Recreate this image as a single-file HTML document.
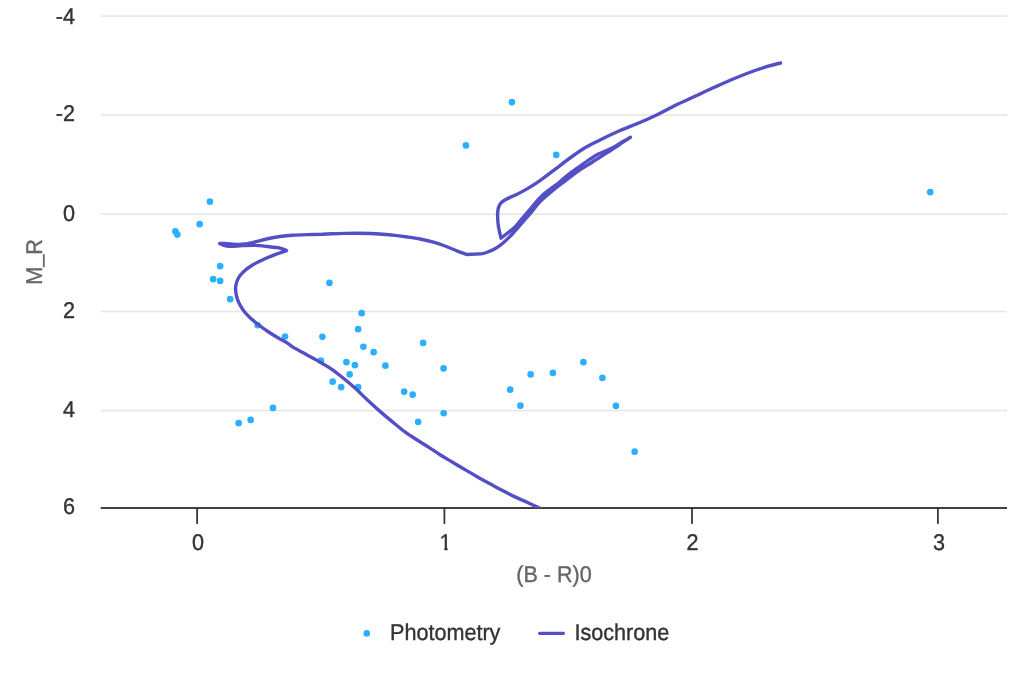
<!DOCTYPE html>
<html lang="en"><head><meta charset="utf-8"><title>Chart</title>
<style>html,body{margin:0;padding:0;background:#fff;overflow:hidden}svg{display:block;will-change:transform}text{text-rendering:geometricPrecision;font-family:"Liberation Sans",Helvetica,Arial,sans-serif;font-size:21.6px}</style></head><body>
<svg width="1024" height="683" viewBox="0 0 1024 683">
<rect width="1024" height="683" fill="#fff"/>
<defs><clipPath id="pc"><rect x="100.8" y="0" width="906.2" height="508.0"/></clipPath></defs>
<rect x="100.8" y="15.25" width="906.2" height="1.6" fill="#e6e6e6"/>
<rect x="100.8" y="114.25" width="906.2" height="1.6" fill="#e6e6e6"/>
<rect x="100.8" y="213.35" width="906.2" height="1.6" fill="#e6e6e6"/>
<rect x="100.8" y="310.7" width="906.2" height="1.6" fill="#e6e6e6"/>
<rect x="100.8" y="409.8" width="906.2" height="1.6" fill="#e6e6e6"/>
<rect x="100.8" y="507.07" width="906.2" height="1.86" fill="#333"/>
<rect x="196.22" y="508.0" width="1.76" height="15.9" fill="#333"/>
<text transform="translate(198.1,550) scale(1,1.055)" text-anchor="middle" fill="#333" stroke="#333" stroke-width="0.35">0</text>
<rect x="443.52" y="508.0" width="1.76" height="15.9" fill="#333"/>
<text transform="translate(445.4,550) scale(1,1.055)" text-anchor="middle" fill="#333" stroke="#333" stroke-width="0.35">1</text>
<rect x="691.12" y="508.0" width="1.76" height="15.9" fill="#333"/>
<text transform="translate(692.5,550) scale(1,1.055)" text-anchor="middle" fill="#333" stroke="#333" stroke-width="0.35">2</text>
<rect x="937.02" y="508.0" width="1.76" height="15.9" fill="#333"/>
<text transform="translate(938.9,550) scale(1,1.055)" text-anchor="middle" fill="#333" stroke="#333" stroke-width="0.35">3</text>
<text transform="translate(74.9,23.8) scale(1,1.055)" text-anchor="end" fill="#333" stroke="#333" stroke-width="0.35">-4</text>
<text transform="translate(74.9,121.1) scale(1,1.055)" text-anchor="end" fill="#333" stroke="#333" stroke-width="0.35">-2</text>
<text transform="translate(74.9,220.5) scale(1,1.055)" text-anchor="end" fill="#333" stroke="#333" stroke-width="0.35">0</text>
<text transform="translate(74.9,317.7) scale(1,1.055)" text-anchor="end" fill="#333" stroke="#333" stroke-width="0.35">2</text>
<text transform="translate(74.9,416.6) scale(1,1.055)" text-anchor="end" fill="#333" stroke="#333" stroke-width="0.35">4</text>
<text transform="translate(74.9,514.1) scale(1,1.055)" text-anchor="end" fill="#333" stroke="#333" stroke-width="0.35">6</text>
<text dy="0 -1.7 1.7" transform="translate(41.9,262) rotate(-90) scale(1,1.055)" text-anchor="middle" fill="#666" stroke="#666" stroke-width="0.35">M_R</text>
<text transform="translate(554,581.7) scale(1,1.055)" text-anchor="middle" fill="#666" stroke="#666" stroke-width="0.35">(B - R)0</text>
<rect x="439.5" y="547.4" width="4.85" height="4.4" fill="#fff"/><rect x="447.65" y="547.4" width="4.6" height="4.4" fill="#fff"/>
<g fill="#2caffe"><circle cx="209.9" cy="201.65" r="3.3"/><circle cx="199.65" cy="224.15" r="3.3"/><circle cx="175.4" cy="231.4" r="3.3"/><circle cx="177.35" cy="234.6" r="3.3"/><circle cx="220.15" cy="266.15" r="3.3"/><circle cx="213.15" cy="279.15" r="3.3"/><circle cx="220.15" cy="280.9" r="3.3"/><circle cx="230.15" cy="299.15" r="3.3"/><circle cx="257.65" cy="325.15" r="3.3"/><circle cx="285.04999999999995" cy="336.54999999999995" r="3.3"/><circle cx="322.4" cy="336.84999999999997" r="3.3"/><circle cx="329.45" cy="282.9" r="3.3"/><circle cx="361.65" cy="313.15" r="3.3"/><circle cx="358.15" cy="329.15" r="3.3"/><circle cx="363.4" cy="346.75" r="3.3"/><circle cx="373.65" cy="352.15" r="3.3"/><circle cx="423.15" cy="342.9" r="3.3"/><circle cx="320.9" cy="360.65" r="3.3"/><circle cx="346.4" cy="362.15" r="3.3"/><circle cx="354.9" cy="365.15" r="3.3"/><circle cx="385.4" cy="365.65" r="3.3"/><circle cx="443.54999999999995" cy="368.4" r="3.3"/><circle cx="349.65" cy="374.4" r="3.3"/><circle cx="332.65" cy="381.65" r="3.3"/><circle cx="341.15" cy="387.15" r="3.3"/><circle cx="358.15" cy="387.15" r="3.3"/><circle cx="404.15" cy="391.65" r="3.3"/><circle cx="412.65" cy="394.65" r="3.3"/><circle cx="443.65" cy="413.25" r="3.3"/><circle cx="418.15" cy="421.9" r="3.3"/><circle cx="272.9" cy="407.9" r="3.3"/><circle cx="250.65" cy="419.9" r="3.3"/><circle cx="238.65" cy="423.15" r="3.3"/><circle cx="510.15" cy="389.65" r="3.3"/><circle cx="520.4" cy="405.65" r="3.3"/><circle cx="530.65" cy="374.4" r="3.3"/><circle cx="552.9" cy="372.9" r="3.3"/><circle cx="583.4" cy="362.15" r="3.3"/><circle cx="602.4" cy="377.9" r="3.3"/><circle cx="615.9" cy="405.9" r="3.3"/><circle cx="634.65" cy="451.65" r="3.3"/><circle cx="511.9" cy="102.15" r="3.3"/><circle cx="465.9" cy="145.4" r="3.3"/><circle cx="556.25" cy="154.9" r="3.3"/><circle cx="930.25" cy="192.15" r="3.3"/></g>
<g clip-path="url(#pc)"><path fill="none" stroke="#544fc5" stroke-width="3.4" stroke-linejoin="round" stroke-linecap="round" d="M541.00,508.70C540.21,508.33 538.50,507.53 536.25,506.50C534.00,505.47 531.04,504.10 527.50,502.50C523.96,500.90 519.17,498.88 515.00,496.90C510.83,494.92 506.67,492.79 502.50,490.60C498.33,488.41 494.17,486.03 490.00,483.75C485.83,481.47 481.67,479.26 477.50,476.90C473.33,474.54 469.17,472.04 465.00,469.60C460.83,467.16 456.67,464.73 452.50,462.25C448.33,459.77 443.75,457.11 440.00,454.75C436.25,452.39 433.75,450.51 430.00,448.10C426.25,445.69 421.67,443.00 417.50,440.30C413.33,437.60 409.17,434.97 405.00,431.90C400.83,428.83 396.67,425.32 392.50,421.90C388.33,418.48 384.17,415.05 380.00,411.40C375.83,407.75 371.67,403.88 367.50,400.00C363.33,396.12 359.17,391.85 355.00,388.10C350.83,384.35 346.67,380.83 342.50,377.50C338.33,374.17 334.17,370.92 330.00,368.10C325.83,365.28 321.67,362.99 317.50,360.60C313.33,358.21 309.17,356.03 305.00,353.75C300.83,351.47 295.42,348.67 292.50,346.90C289.58,345.12 290.00,344.67 287.50,343.10C285.00,341.53 280.83,339.48 277.50,337.50C274.17,335.52 270.62,333.33 267.50,331.25C264.38,329.17 261.46,327.08 258.75,325.00C256.04,322.92 253.54,320.83 251.25,318.75C248.96,316.67 246.88,314.79 245.00,312.50C243.12,310.21 241.35,307.50 240.00,305.00C238.65,302.50 237.63,300.00 236.90,297.50C236.17,295.00 235.71,292.29 235.60,290.00C235.49,287.71 235.72,285.83 236.25,283.75C236.78,281.67 237.57,279.48 238.75,277.50C239.93,275.52 241.01,273.98 243.30,271.90C245.59,269.82 248.88,267.19 252.50,265.00C256.12,262.81 260.83,260.62 265.00,258.75C269.17,256.88 273.90,255.11 277.50,253.75C281.10,252.39 285.08,251.12 286.60,250.60L286.60,250.60C285.50,250.18 283.18,248.78 280.00,248.10C276.82,247.42 271.67,246.95 267.50,246.50C263.33,246.05 259.17,245.55 255.00,245.40C250.83,245.25 246.67,245.46 242.50,245.60C238.33,245.74 233.12,246.28 230.00,246.25C226.88,246.22 225.47,245.86 223.75,245.40C222.03,244.94 220.38,243.82 219.70,243.50L219.70,243.50C220.58,243.50 222.03,243.35 225.00,243.50C227.97,243.65 234.17,244.32 237.50,244.40C240.83,244.48 242.08,244.42 245.00,244.00C247.92,243.58 251.25,242.78 255.00,241.90C258.75,241.03 263.33,239.65 267.50,238.75C271.67,237.85 275.83,237.09 280.00,236.50C284.17,235.91 287.92,235.52 292.50,235.20C297.08,234.88 302.92,234.73 307.50,234.60C312.08,234.47 315.83,234.54 320.00,234.40C324.17,234.26 328.33,233.92 332.50,233.75C336.67,233.58 340.83,233.48 345.00,233.40C349.17,233.32 353.33,233.23 357.50,233.25C361.67,233.27 365.83,233.33 370.00,233.50C374.17,233.67 378.33,233.93 382.50,234.25C386.67,234.57 390.83,234.94 395.00,235.40C399.17,235.86 403.33,236.40 407.50,237.00C411.67,237.60 415.83,238.18 420.00,239.00C424.17,239.82 428.33,240.73 432.50,241.90C436.67,243.07 440.83,244.47 445.00,246.00C449.17,247.53 453.85,249.68 457.50,251.10C461.15,252.52 465.33,253.93 466.90,254.50L466.90,254.50C468.25,254.43 472.40,254.25 475.00,254.10C477.60,253.95 480.21,254.02 482.50,253.60C484.79,253.18 486.67,252.41 488.75,251.60C490.83,250.79 492.71,250.10 495.00,248.75C497.29,247.40 499.58,246.00 502.50,243.50C505.42,241.00 509.17,237.28 512.50,233.75C515.83,230.22 519.17,226.12 522.50,222.30C525.83,218.48 529.58,214.25 532.50,210.80C535.42,207.35 537.25,204.47 540.00,201.60C542.75,198.73 545.88,196.27 549.00,193.60C552.12,190.93 555.67,188.00 558.75,185.60C561.83,183.20 564.38,181.55 567.50,179.20C570.62,176.85 574.17,173.85 577.50,171.50C580.83,169.15 584.17,167.20 587.50,165.10C590.83,163.00 594.42,160.87 597.50,158.90C600.58,156.93 603.08,155.18 606.00,153.30C608.92,151.42 612.17,149.45 615.00,147.60C617.83,145.75 620.43,143.92 623.00,142.20C625.57,140.48 629.17,138.12 630.40,137.30L630.40,137.30C629.17,138.00 625.57,139.98 623.00,141.50C620.43,143.02 617.83,144.83 615.00,146.40C612.17,147.97 608.92,149.57 606.00,150.90C603.08,152.23 600.58,152.73 597.50,154.40C594.42,156.07 590.83,158.63 587.50,160.90C584.17,163.17 580.83,165.60 577.50,168.00C574.17,170.40 570.62,172.83 567.50,175.30C564.38,177.77 561.83,180.35 558.75,182.80C555.67,185.25 552.12,187.53 549.00,190.00C545.88,192.47 543.17,194.38 540.00,197.60C536.83,200.82 533.33,205.40 530.00,209.30C526.67,213.20 522.71,217.87 520.00,221.00C517.29,224.13 516.92,225.25 513.75,228.10C510.58,230.95 503.12,236.43 501.00,238.10L501.00,238.10C500.57,236.12 498.97,229.89 498.40,226.25C497.83,222.61 497.68,218.88 497.60,216.25C497.52,213.62 497.67,212.16 497.90,210.50C498.13,208.84 498.43,207.60 499.00,206.30C499.57,205.00 500.30,203.75 501.30,202.70C502.30,201.65 503.55,200.88 505.00,200.00C506.45,199.12 508.33,198.20 510.00,197.40C511.67,196.60 512.08,196.67 515.00,195.20C517.92,193.73 523.33,191.03 527.50,188.60C531.67,186.17 535.42,183.80 540.00,180.60C544.58,177.40 550.00,173.17 555.00,169.40C560.00,165.63 565.00,161.60 570.00,158.00C575.00,154.40 580.00,150.80 585.00,147.80C590.00,144.80 594.17,142.88 600.00,140.00C605.83,137.12 613.33,133.42 620.00,130.50C626.67,127.58 634.17,124.96 640.00,122.50C645.83,120.04 649.17,118.58 655.00,115.75C660.83,112.92 668.33,108.75 675.00,105.50C681.67,102.25 688.33,99.33 695.00,96.25C701.67,93.17 708.33,90.00 715.00,87.00C721.67,84.00 728.33,81.00 735.00,78.25C741.67,75.50 749.17,72.58 755.00,70.50C760.83,68.42 765.75,67.00 770.00,65.75C774.25,64.50 778.75,63.46 780.50,63.00"/></g>
<circle cx="366.75" cy="633.4" r="3.3" fill="#2caffe"/>
<text transform="translate(390,640) scale(1,1.055)" text-anchor="start" fill="#333" stroke="#333" stroke-width="0.35">Photometry</text>
<rect x="538" y="631.7" width="27" height="3.2" rx="1.6" fill="#544fc5"/>
<text transform="translate(574.5,640) scale(1,1.055)" text-anchor="start" fill="#333" stroke="#333" stroke-width="0.35">Isochrone</text>
</svg></body></html>
